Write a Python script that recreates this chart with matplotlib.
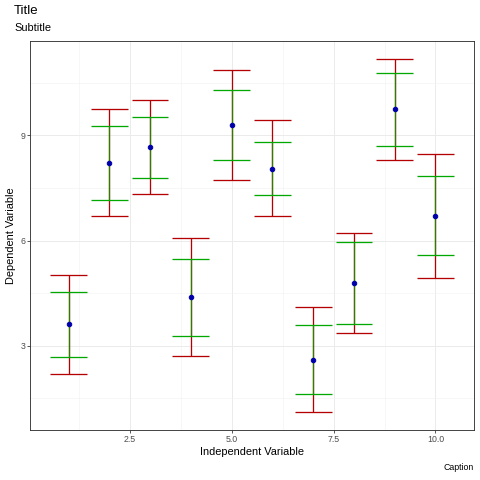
import matplotlib
matplotlib.use("Agg")
import matplotlib.pyplot as plt
import numpy as np

# values
x = [1, 2, 3, 4, 5, 6, 7, 8, 9, 10]
y_mean = [3.61, 8.22, 8.66, 4.38, 9.30, 8.05, 2.60, 4.78, 9.75, 6.70]
red_lo = [2.20, 6.70, 7.33, 2.70, 7.73, 6.69, 1.10, 3.37, 8.31, 4.92]
red_hi = [5.01, 9.75, 10.00, 6.07, 10.87, 9.43, 4.10, 6.22, 11.19, 8.48]
green_lo = [2.68, 7.16, 7.79, 3.28, 8.31, 7.29, 1.63, 3.63, 8.71, 5.58]
green_hi = [4.54, 9.28, 9.53, 5.48, 10.30, 8.81, 3.58, 5.96, 10.79, 7.84]

x_ticks = [2.5, 5.0, 7.5, 10.0]
x_ticklabels = ["2.5", "5.0", "7.5", "10.0"]
y_ticks = [3, 6, 9]
y_ticklabels = ["3", "6", "9"]

RED = "#B40000"
GREEN = "#00A800"
BLUE = "#0000AA"
half = 0.45
lw = 1.3

plt.rcParams['font.family'] = ['Liberation Sans', 'DejaVu Sans']

fig = plt.figure(figsize=(480 / 72, 480 / 72), dpi=72)
ax = fig.add_axes([30 / 480, 1 - 430 / 480, 444 / 480, 389 / 480])

xa = np.array(x, dtype=float)

# outer (red) error bars
ax.vlines(xa, red_lo, red_hi, color=RED, lw=lw, zorder=3)
ax.hlines(red_lo, xa - half, xa + half, color=RED, lw=lw, zorder=3)
ax.hlines(red_hi, xa - half, xa + half, color=RED, lw=lw, zorder=3)

# inner (green) error bars
ax.vlines(xa, green_lo, green_hi, color=GREEN, lw=lw, alpha=0.75, zorder=4)
ax.hlines(green_lo, xa - half, xa + half, color=GREEN, lw=lw, zorder=4)
ax.hlines(green_hi, xa - half, xa + half, color=GREEN, lw=lw, zorder=4)

ax.plot(xa, y_mean, 'o', color=BLUE, markersize=4.5, zorder=5)

# ggplot-like expansion
x0, x1 = xa.min() - half, xa.max() + half
y0, y1 = min(red_lo), max(red_hi)
ax.set_xlim(x0 - 0.05 * (x1 - x0), x1 + 0.05 * (x1 - x0))
ax.set_ylim(y0 - 0.05 * (y1 - y0), y1 + 0.05 * (y1 - y0))

ax.set_xticks(x_ticks)
ax.set_xticklabels(x_ticklabels)
ax.set_yticks(y_ticks)
ax.set_yticklabels(y_ticklabels)
ax.set_xticks([1.25, 3.75, 6.25, 8.75], minor=True)
ax.set_yticks([1.5, 4.5, 7.5, 10.5], minor=True)

ax.grid(True, which='major', color='#EBEBEB', lw=1.0, zorder=0)
ax.grid(True, which='minor', color='#F2F2F2', lw=0.6, zorder=0)
ax.set_axisbelow(True)
ax.tick_params(which='major', length=2.75, width=0.8, color='#333333',
               labelsize=8.8, labelcolor='#4D4D4D', pad=2)
ax.tick_params(which='minor', length=0)
for s in ax.spines.values():
    s.set_color('#333333')
    s.set_linewidth(0.9)

ax.set_xlabel('Independent Variable', fontsize=11, labelpad=3)
ax.set_ylabel('Dependent Variable', fontsize=11, labelpad=4)

fig.text(14 / 480, 1 - 5 / 480, 'Title', fontsize=13.2, va='top', ha='left')
fig.text(14 / 480, 1 - 23 / 480, 'Subtitle', fontsize=11, va='top', ha='left')
fig.text(474 / 480, 1 - 463 / 480, 'Caption', fontsize=8.8, va='top', ha='right')

fig.savefig('out.png', dpi=72)
